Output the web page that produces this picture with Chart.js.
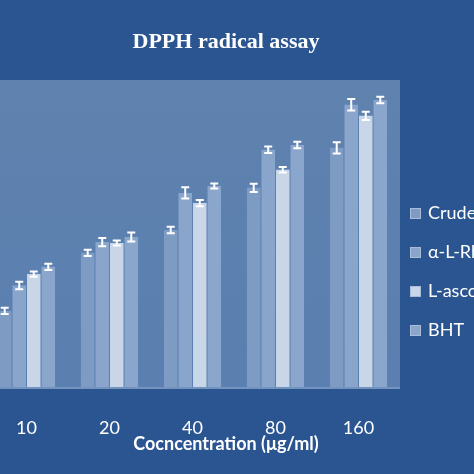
<!DOCTYPE html>
<html><head><meta charset="utf-8">
<script src="https://cdn.jsdelivr.net/npm/chart.js@4"></script>
<style>
html,body{margin:0;padding:0;width:474px;height:474px;overflow:hidden;background:#2a5591;}
#wrap{position:absolute;left:-98px;top:0;width:600px;height:474px;}
#title{position:absolute;left:0;width:452px;top:28px;text-align:center;color:#fff;font:bold 22px "Liberation Serif",serif;}
#xt{position:absolute;left:0;width:452px;top:432px;text-align:center;color:#fff;font:bold 18px "Lato",sans-serif;}
#leg{position:absolute;left:410px;top:201px;color:#fff;font:18px "Lato",sans-serif;}
#leg div{height:39px;white-space:nowrap;}
#leg span{display:inline-block;width:9px;height:9px;margin-right:7px;border:1px solid #a9bcd8;}
</style></head><body>
<div id="wrap"><canvas id="c" width="600" height="474"></canvas></div>
<div id="title">DPPH radical assay</div>
<div id="xt">Cocncentration (μg/ml)</div>
<div id="leg"></div>
<script>
const categories=["5","10","20","40","80","160"];
const seriesNames=["Crude extract","α-L-Rhamnopyranoside","L-ascorbic acid","BHT"];
const crude=[14,24,42.3,49.5,62.8,75.4];
const alpha=[20,32,45.7,61.2,74.8,89];
const lasc=[23,35.6,45.4,58,68.5,85.5];
const bht=[26,37.9,47.3,63.4,76.3,90.5];
const errCrude=[1,1,1,1,1.3,1.8];
const errAlpha=[1,1.2,1.3,1.8,1,1.8];
const errLasc=[0.8,0.8,0.8,1,0.9,1.3];
const errBht=[1,1,1.4,0.8,1,1];
const colors=["#7e9bc4","#89a5cc","#c9d6e8","#8ba6cc"];
const errs=[errCrude,errAlpha,errLasc,errBht];
const leg=document.getElementById('leg');
seriesNames.forEach((n,i)=>{const d=document.createElement('div');d.innerHTML='<span style="background:'+colors[i]+'"></span>'+n;leg.appendChild(d);});
const bg={id:'bg',beforeDraw(ch){const a=ch.chartArea,c=ch.ctx;const g=c.createLinearGradient(0,a.top,0,a.bottom);g.addColorStop(0,'#5f82ae');g.addColorStop(1,'#5a7fb0');c.save();c.fillStyle=g;c.fillRect(a.left,a.top,a.right-a.left,a.bottom-a.top);c.fillStyle='#7394bf';c.fillRect(a.left,a.bottom,a.right-a.left,2);c.restore();}};
const eb={id:'eb',afterDatasetsDraw(ch){const c=ch.ctx,y=ch.scales.y;c.save();c.strokeStyle='#fff';c.lineWidth=2;
ch.data.datasets.forEach((ds,i)=>{ch.getDatasetMeta(i).data.forEach((el,j)=>{const v=ds.data[j],e=errs[i][j];const t=y.getPixelForValue(v+e),b=y.getPixelForValue(v-e);c.beginPath();c.moveTo(el.x,t);c.lineTo(el.x,b);c.moveTo(el.x-4,t);c.lineTo(el.x+4,t);c.moveTo(el.x-4,b);c.lineTo(el.x+4,b);c.stroke();});});c.restore();}};
new Chart(document.getElementById('c'),{type:'bar',
data:{labels:categories,datasets:[crude,alpha,lasc,bht].map((d,i)=>({label:seriesNames[i],data:d,backgroundColor:colors[i],borderWidth:0}))},
options:{responsive:false,animation:false,devicePixelRatio:1,
layout:{padding:{top:80,right:102,left:0,bottom:0}},
categoryPercentage:0.7,barPercentage:0.93,
plugins:{legend:{display:false},tooltip:{enabled:false}},
scales:{y:{display:false,min:0,max:96.8},
x:{grid:{display:false},border:{display:false},ticks:{color:'#fff',font:{size:18,family:'Lato'},padding:22},afterFit(s){s.height=87;}}}},
plugins:[bg,eb]});
</script></body></html>
